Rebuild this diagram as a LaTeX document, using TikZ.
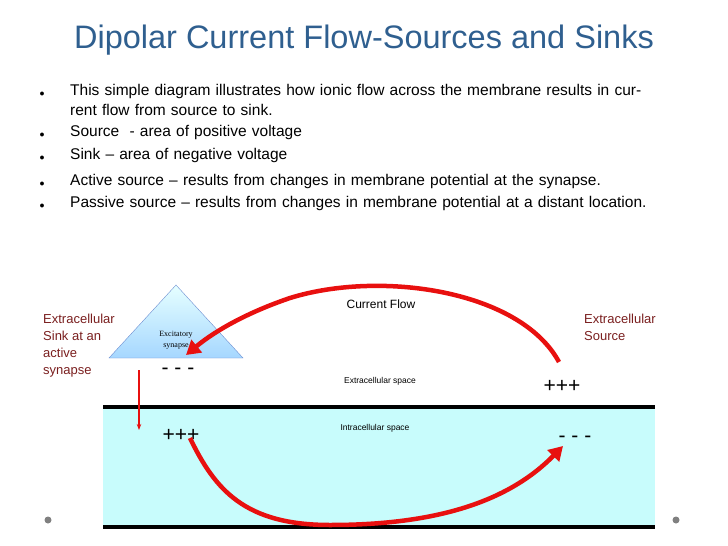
\documentclass[tikz,border=0pt]{standalone}
\usepackage{fontspec}
\setmainfont{Liberation Sans}
\newfontfamily\serifsmall{Liberation Serif}
\usetikzlibrary{arrows.meta, positioning}
\definecolor{titleblue}{HTML}{2F5F8F}
\definecolor{labelred}{HTML}{7A1F1F}
\definecolor{cellcyan}{HTML}{C8FCFC}
\definecolor{flowred}{HTML}{E8100F}
\begin{document}
\begin{tikzpicture}[x=1pt, y=-1pt,
			bullet/.style={anchor=north west, inner sep=0, text width=592pt, align=left,
				font=\fontsize{15.5}{20}\selectfont},
			lbl/.style={anchor=north west, inner sep=0, align=left, text=labelred,
				font=\fontsize{13}{17}\selectfont},
			charge/.style={inner sep=0, font=\fontsize{21}{21}\selectfont},
			space/.style={inner sep=0, font=\fontsize{8.5}{10}\selectfont},
			flow/.style={draw=flowred, line width=4.5pt, -{Triangle[length=14pt,width=16pt]}}]
	\useasboundingbox (0,0) rectangle (728,546);
	% title and bullets
	\node[text=titleblue, font=\fontsize{32.5}{34}\selectfont] (title) at (364,40) {Dipolar Current Flow-Sources and Sinks};
	\foreach \y/\t [count=\i] in {84/{This simple diagram illustrates how ionic flow across the membrane results in current flow from source to sink.},
		125/{Source\ \ - area of positive voltage},
		148/{Sink -- area of negative voltage},
		174/{Active source -- results from changes in membrane potential at the synapse.},
		196/{Passive source -- results from changes in membrane potential at a distant location.}}
	{
		\node[inner sep=0, font=\fontsize{10}{10}\selectfont] (dot\i) at (42,\y+10) {$\bullet$};
		\node[bullet] (item\i) at (70,\y) {\t};
	}
	% membrane
	\fill[cellcyan] (103,407) rectangle (655,527);
	\draw[line width=4pt] (103,407) -- (655,407);
	\draw[line width=4pt] (103,527) -- (655,527);
	% synapse
	\draw[draw=cyan!40!blue!60, top color=cyan!10, bottom color=cyan!55!blue!35] (109,358) -- (176,285) -- (243,358) -- cycle;
	\node[align=center, inner sep=0, font=\serifsmall\fontsize{8}{11}\selectfont] (syn) at (176,340) {Excitatory\\synapse};
	% labels
	\node[lbl] (sink) at (43,314) {Extracellular\\Sink at an\\active\\synapse};
	\node[lbl] (source) at (584,314) {Extracellular\\Source};
	\node[inner sep=0, font=\fontsize{12}{12}\selectfont] (cflow) at (381,304) {Current Flow};
	\node[space] (extra) at (380,381) {Extracellular space};
	\node[space] (intra) at (375,428) {Intracellular space};
	\node[charge] (sinkneg) at (178,371) {-\ -\ -};
	\node[charge] (sinkpos) at (181,435) {+++};
	\node[charge] (srcpos) at (562,386) {+++};
	\node[charge] (srcneg) at (575,439) {-\ -\ -};
	% currents
	\coordinate (a0) at (139,370);
	\coordinate (a1) at (139,430);
	\draw[flowred, line width=1.2pt, -{Stealth[length=6pt]}] (a0) -- (a1);
	\coordinate (up0) at (559,362);
	\coordinate (up1) at (186,355);
	\draw[flow] (up0) .. controls (520,290) and (380,270) .. (290,298) .. controls (240,315) and (210,335) .. (up1);
	\coordinate (lo0) at (190,438);
	\coordinate (lo1) at (563,446);
	\draw[flow] (lo0) .. controls (215,490) and (245,525) .. (330,525) .. controls (440,525) and (510,500) .. (lo1);
	% corner dots
	\fill[gray] (48,520) circle (3.5);
	\fill[gray] (676,520) circle (3.5);
\end{tikzpicture}
\end{document}
